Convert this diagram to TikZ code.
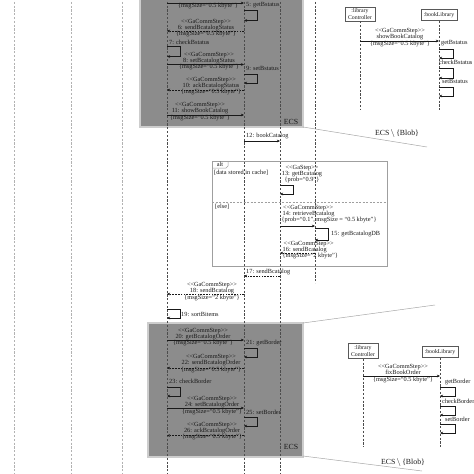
\documentclass[tikz,border=0pt]{standalone}
\usepackage{fontspec}
\setmainfont{Liberation Serif}
\usetikzlibrary{arrows.meta,calc}
\definecolor{boxgray}{RGB}{140,140,140}
\definecolor{rimgray}{RGB}{205,205,205}
\newcommand\stl{<\kern0pt<}
\newcommand\stg{>\kern0pt>}
\newcommand\gcs{\stl GaCommStep\stg}
\newcommand\mysz[1]{\{msgSize=``#1''\}}
\tikzset{
  ll/.style={draw=gray!60, line width=0.4pt, dash pattern=on 2.2pt off 1.6pt},
  lld/.style={draw=black!70, line width=0.4pt, dash pattern=on 2.2pt off 1.6pt},
  msg/.style={draw=black!90, line width=0.5pt, -{Stealth[length=3.2pt,width=2.8pt]}},
  ret/.style={msg, dash pattern=on 1.6pt off 1.2pt},
  txt/.style={font=\fontsize{6.3}{6.4}\selectfont, inner sep=0pt, align=center, text=black!90},
  txtl/.style={txt, align=left},
  ecsbox/.style={fill=boxgray, draw=rimgray, line width=1.2pt},
  ecslbl/.style={font=\fontsize{7.8}{8}\selectfont, inner sep=0pt, text=black!90},
  objbox/.style={draw=black!65, line width=0.4pt, font=\fontsize{5.8}{6.2}\selectfont, inner sep=1.2pt, align=center, fill=white, text=black!90},
  framebox/.style={draw=gray!75, line width=0.5pt},
  proj/.style={draw=gray!70, line width=0.5pt}
}
\newcommand\selfcall[4]{\draw[msg] (#1,#2) -- ++(#3,0) -- ++(0,#4) -- ++(-#3,0);}
\begin{document}
\begin{tikzpicture}[x=1pt,y=-1pt]
\useasboundingbox (0,0) rectangle (474,474);
% ECS boxes
\draw[ecsbox] (140,-20) rectangle (303,127);
\draw[ecsbox] (148,323) rectangle (303,457);
% lifelines
\foreach \n/\x in {L1/14,L2/71,L3/122,L4/167,L5/244,L6/280,L7/315}{\coordinate (\n) at (\x,-2);}
\draw[ll] (L1) -- (L1 |- 0,476);
\draw[ll] (L2) -- (L2 |- 0,476);
\draw[ll] (L3) -- (L3 |- 0,476);
\draw[lld] (L4) -- (L4 |- 0,476);
\draw[lld] (L5) -- (L5 |- 0,476);
\draw[lld] (L6) -- (L6 |- 0,476);
\draw[lld] (L7) -- (L7 |- 0,283);
% ---- top ECS box messages
\draw[msg] (L4 |- 0,3) -- (L5 |- 0,3);
\node[txt] (m4) at (208,5.5) {\mysz{0.5 kbyte}};
\node[txtl, anchor=west] (m5) at (246,5) {5: getBstatus};
\selfcall{244}{10.5}{13}{10}
\node[txt] (m6) at (206,28) {\gcs\\6: sendBcatalogStatus\\\mysz{0.5 kbyte}};
\draw[ret] (L5 |- 0,31) -- (L4 |- 0,31);
\node[txtl, anchor=west] (m7) at (169,42) {7: checkBstatus};
\selfcall{167}{46.5}{13}{10}
\node[txt] (m8) at (209,61) {\gcs\\8: setBcatalogStatus\\\mysz{0.5 kbyte}};
\draw[msg] (L4 |- 0,64.5) -- (L5 |- 0,64.5);
\node[txtl, anchor=west] (m9) at (246,68) {9: setBstatus};
\selfcall{244}{74}{13}{9}
\node[txt] (m10) at (211,86) {\gcs\\10: ackBcatalogStatus\\\mysz{0.5 kbyte}};
\draw[ret] (L5 |- 0,90) -- (L4 |- 0,90);
\node[txt] (m11) at (200,111.5) {\gcs\\11: showBookCatalog\\\mysz{0.5 kbyte}};
\draw[msg] (L4 |- 0,115) -- (L5 |- 0,115);
\node[ecslbl] (ecs1) at (291,122) {ECS};
% ---- between
\node[txtl, anchor=west] (m12) at (246,136) {12: bookCatalog};
\draw[msg] (L5 |- 0,141) -- (L6 |- 0,141);
\coordinate (p1a) at (303,127);
\coordinate (p1b) at (427,147);
\draw[proj] (p1a) -- (p1b);
\node[ecslbl] (blob1) at (397,133) {ECS\,$\setminus$\,\{Blob\}};
% ---- top inset
\node[objbox, minimum width=30pt, minimum height=14pt] (o1) at (360,14) {:library\\Controller};
\node[objbox, minimum width=36pt, minimum height=11pt] (o2) at (439,15) {:bookLibrary};
\draw[lld] (o1.south) -- (o1.south |- 0,110);
\draw[lld] (o2.south) -- (o2.south |- 0,110);
\node[txt] (im1) at (400,37.5) {\gcs\\showBookCatalog\\\mysz{0.5 kbyte}};
\draw[msg] (o1.south |- 0,41) -- (o2.south |- 0,41);
\node[txtl, anchor=west] (im2) at (441,43) {getBstatus};
\selfcall{439}{49}{14}{9}
\node[txtl, anchor=west] (im3) at (439,62) {checkBstatus};
\selfcall{439}{68}{14}{10}
\node[txtl, anchor=west] (im4) at (442,81) {setBstatus};
\selfcall{439}{87}{14}{9}
% ---- alt frame
\draw[framebox] (212,161) rectangle (387,266);
\draw[framebox] (212,168) -- (226,168) -- (228,166) -- (228,161);
\node[txt] (altl) at (220,164.5) {alt};
\node[txtl, anchor=west] (g1) at (214,173) {[data stored in cache]};
\draw[framebox, dash pattern=on 2pt off 1.5pt] (212,202) -- (387,202);
\node[txtl, anchor=west] (g2) at (215,207) {[else]};
\node[txt] (m13) at (302,174) {\stl GaStep\stg\\13: getBcatalog\\\{prob=``0.9''\}};
\selfcall{280}{185}{13}{9}
\node[txtl, anchor=west] (m14) at (281.5,214) {\hspace*{1.5pt}\gcs\\\hspace*{1pt}14: retrieveBcatalog\\\{prob=``0.1'', msgSize = ``0.5 kbyte''\}};
\draw[msg] (L6 |- 0,226) -- (L7 |- 0,226);
\selfcall{315}{228}{13}{12}
\node[txtl, anchor=west] (m15) at (331,234) {15: getBcatalogDB};
\node[txtl, anchor=west] (m16) at (282.5,250) {\hspace*{1pt}\gcs\\16: sendBcatalog\\\mysz{2 kbyte}};
\draw[ret] (L7 |- 0,253) -- (L6 |- 0,253);
\node[txtl, anchor=west] (m17) at (246,272) {17: sendBcatalog};
\draw[ret] (L6 |- 0,276) -- (L5 |- 0,276);
\node[txt] (m18) at (212,291.5) {\gcs\\18: sendBcatalog\\\mysz{2 kbyte}};
\draw[ret] (L5 |- 0,294) -- (L4 |- 0,294);
\node[txtl, anchor=west] (m19) at (181,314) {19: sortBitems};
\selfcall{167}{309}{13}{9}
% ---- bottom ECS box messages
\node[txt] (m20) at (203,337) {\gcs\\20: getBcatalogOrder\\\mysz{0.5 kbyte}};
\draw[msg] (L4 |- 0,340) -- (L5 |- 0,340);
\node[txtl, anchor=west] (m21) at (246,343) {21: getBorder};
\selfcall{244}{348}{13}{9}
\node[txt] (m22) at (211,363.5) {\gcs\\22: sendBcatalogOrder\\\mysz{0.5 kbyte}};
\draw[ret] (L5 |- 0,368) -- (L4 |- 0,368);
\node[txtl, anchor=west] (m23) at (169,381) {23: checkBorder};
\selfcall{167}{387}{13}{9}
\node[txt] (m24) at (212,405.5) {\gcs\\24: setBcatalogOrder\\\mysz{0.5 kbyte}};
\draw[msg] (L4 |- 0,408) -- (L5 |- 0,408);
\node[txtl, anchor=west] (m25) at (246,412) {25: setBorder};
\selfcall{244}{417}{13}{9}
\node[txt] (m26) at (212,431) {\gcs\\26: ackBcatalogOrder\\\mysz{0.5 kbyte}};
\draw[ret] (L5 |- 0,435.5) -- (L4 |- 0,435.5);
\node[ecslbl] (ecs2) at (291,447) {ECS};
% ---- bottom projection
\coordinate (p2a) at (303,323);
\coordinate (p2b) at (435,305);
\coordinate (p3a) at (303,456);
\coordinate (p3b) at (422,471);
\draw[proj] (p2a) -- (p2b);
\draw[proj] (p3a) -- (p3b);
% ---- bottom inset
\node[objbox, minimum width=30pt, minimum height=15pt] (o3) at (363,351) {:library\\Controller};
\node[objbox, minimum width=36pt, minimum height=11pt] (o4) at (440,352) {:bookLibrary};
\draw[lld] (o3.south) -- (o3.south |- 0,447);
\draw[lld] (o4.south) -- (o4.south |- 0,447);
\node[txt] (im5) at (403,373.5) {\gcs\\fixBookOrder\\\mysz{0.5 kbyte}};
\draw[msg] (o3.south |- 0,376) -- (o4.south |- 0,376);
\node[txtl, anchor=west] (im6) at (445,382) {getBorder};
\selfcall{440}{387}{15}{9}
\node[txtl, anchor=west] (im7) at (442,401) {checkBorder};
\selfcall{440}{406}{15}{9}
\node[txtl, anchor=west] (im8) at (445,419) {setBorder};
\selfcall{440}{424}{15}{9}
\node[ecslbl] (blob2) at (403,462) {ECS\,$\setminus$\,\{Blob\}};
\end{tikzpicture}
\end{document}
